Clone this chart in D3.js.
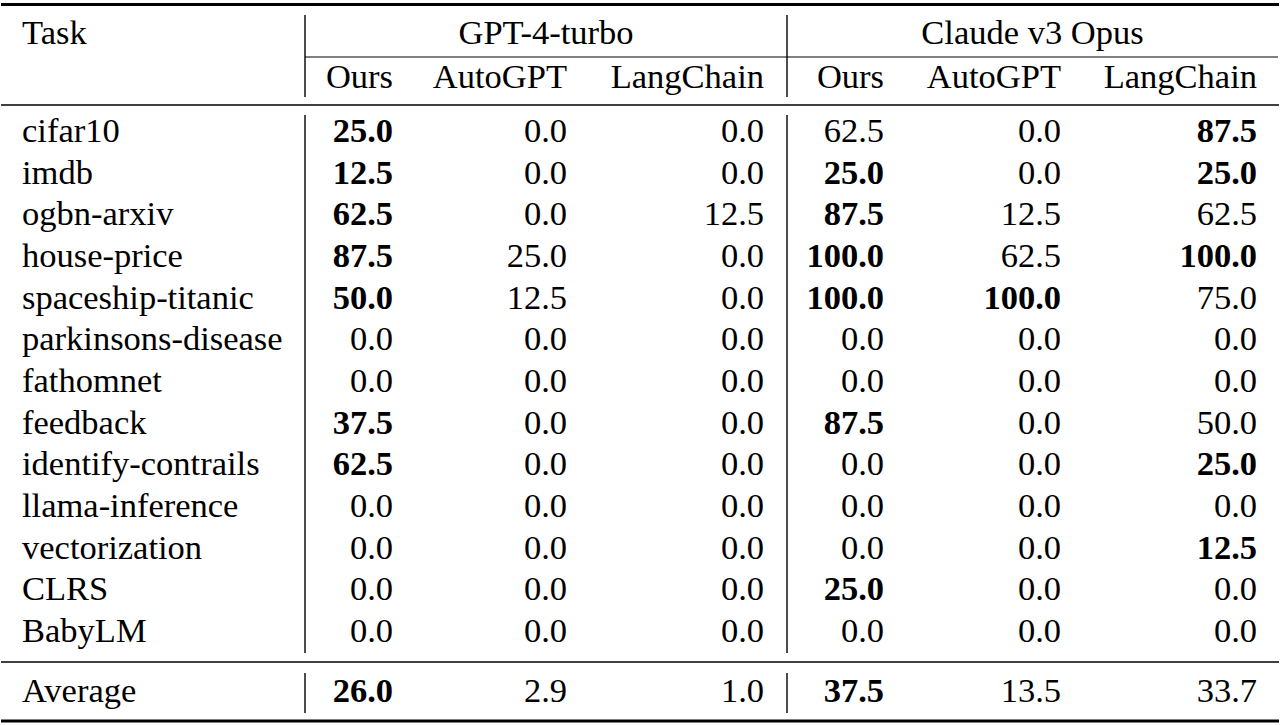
<!DOCTYPE html>
<html lang="en">
<head>
  <meta charset="UTF-8">
  <title>Task success rates</title>
  <style>
    body { margin: 0; background: #fff; }
    svg { display: block; }
    text {
      font-family: "Liberation Serif", "Times New Roman", serif;
      font-size: 34.5px;
      fill: #000;
    }
  </style>
</head>
<body>
  <svg width="1280" height="725"></svg>
  <script src="https://d3js.org/d3.v7.min.js"></script>
  <script>
    const tasks = ["cifar10", "imdb", "ogbn-arxiv", "house-price", "spaceship-titanic",
      "parkinsons-disease", "fathomnet", "feedback", "identify-contrails",
      "llama-inference", "vectorization", "CLRS", "BabyLM"];
    const models = ["GPT-4-turbo", "Claude v3 Opus"];
    const methods = ["Ours", "AutoGPT", "LangChain"];

    const gptOurs      = [25.0, 12.5, 62.5, 87.5, 50.0, 0.0, 0.0, 37.5, 62.5, 0.0, 0.0, 0.0, 0.0];
    const gptAutoGPT   = [0.0, 0.0, 0.0, 25.0, 12.5, 0.0, 0.0, 0.0, 0.0, 0.0, 0.0, 0.0, 0.0];
    const gptLangChain = [0.0, 0.0, 12.5, 0.0, 0.0, 0.0, 0.0, 0.0, 0.0, 0.0, 0.0, 0.0, 0.0];
    const claudeOurs      = [62.5, 25.0, 87.5, 100.0, 100.0, 0.0, 0.0, 87.5, 0.0, 0.0, 0.0, 25.0, 0.0];
    const claudeAutoGPT   = [0.0, 0.0, 12.5, 62.5, 100.0, 0.0, 0.0, 0.0, 0.0, 0.0, 0.0, 0.0, 0.0];
    const claudeLangChain = [87.5, 25.0, 62.5, 100.0, 75.0, 0.0, 0.0, 50.0, 25.0, 0.0, 12.5, 0.0, 0.0];

    const gptAverage    = [26.0, 2.9, 1.0];
    const claudeAverage = [37.5, 13.5, 33.7];

    const series = [
      [gptOurs, gptAutoGPT, gptLangChain],
      [claudeOurs, claudeAutoGPT, claudeLangChain]
    ];
    const averages = [gptAverage, claudeAverage];

    const svg = d3.select("svg");

    // layout
    const colRight = [393, 567, 764, 884, 1061, 1257];   // right edges of the six numeric columns
    const vLines = [305, 787];
    const groupSpan = [[305, 787], [787, 1278]];
    const y = d3.scaleLinear().domain([0, tasks.length - 1]).range([142, 642]);
    const headY1 = 44, headY2 = 88, avgY = 702;
    const labelX = 22;

    function rule(y0, x0, x1, w) {
      svg.append("line")
        .attr("x1", x0).attr("x2", x1)
        .attr("y1", y0).attr("y2", y0)
        .attr("stroke", "#000").attr("stroke-width", w);
    }
    function vline(y0, y1) {
      vLines.forEach(x => {
        svg.append("line")
          .attr("x1", x).attr("x2", x)
          .attr("y1", y0).attr("y2", y1)
          .attr("stroke", "#000").attr("stroke-width", 1.4);
      });
    }

    // rules
    rule(4.5, 1, 1279, 2.8);
    rule(57, 305, 1278, 1.1);
    rule(105, 1, 1279, 1.4);
    rule(662, 1, 1279, 1.4);
    rule(721, 1, 1279, 2.8);
    vline(15, 97);
    vline(115, 653);
    vline(673, 713);

    // header
    svg.append("text").attr("x", labelX).attr("y", headY1).text("Task");
    svg.selectAll(".group").data(models).enter().append("text")
      .attr("class", "group")
      .attr("x", (d, i) => (groupSpan[i][0] + groupSpan[i][1]) / 2)
      .attr("y", headY1)
      .attr("text-anchor", "middle")
      .text(d => d);
    const subHeads = models.flatMap(() => methods);
    svg.selectAll(".sub").data(subHeads).enter().append("text")
      .attr("class", "sub")
      .attr("x", (d, i) => colRight[i])
      .attr("y", headY2)
      .attr("text-anchor", "end")
      .text(d => d);

    // body
    svg.selectAll(".task").data(tasks).enter().append("text")
      .attr("class", "task")
      .attr("x", labelX)
      .attr("y", (d, i) => y(i))
      .text(d => d);

    function cells(rowVals, rowY) {
      // rowVals: [[gpt three], [claude three]]; best per model in bold
      rowVals.forEach((vals, g) => {
        const best = d3.max(vals);
        vals.forEach((v, m) => {
          svg.append("text")
            .attr("x", colRight[g * 3 + m])
            .attr("y", rowY)
            .attr("text-anchor", "end")
            .attr("font-weight", best > 0 && v === best ? "bold" : null)
            .text(v.toFixed(1));
        });
      });
    }

    tasks.forEach((t, i) => {
      cells(series.map(grp => grp.map(col => col[i])), y(i));
    });

    svg.append("text").attr("x", labelX).attr("y", avgY).text("Average");
    cells(averages, avgY);
  </script>
</body>
</html>
